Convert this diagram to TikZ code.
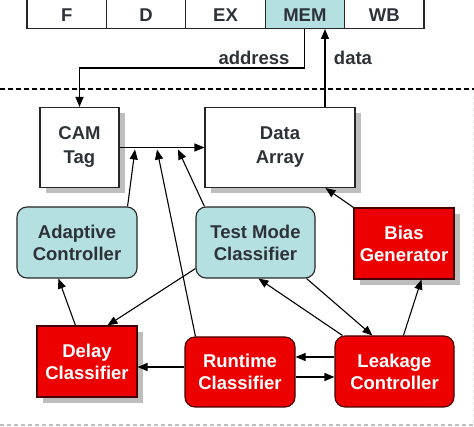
\documentclass[tikz,border=0pt]{standalone}
\usepackage{fontspec}
\setmainfont{Liberation Sans}
\usetikzlibrary{arrows.meta,shadows,calc}
\definecolor{txtdark}{RGB}{45,50,56}
\definecolor{cyanfill}{RGB}{181,224,226}
\definecolor{redfill}{RGB}{236,0,0}
\definecolor{redborder}{RGB}{70,0,0}
\definecolor{shadowgray}{RGB}{190,190,190}
\tikzset{
  lbl/.style={font=\fontsize{18.5}{22}\selectfont\bfseries, text=txtdark},
  box/.style={draw=black!85, line width=1.1pt, align=center, inner sep=0pt,
    font=\fontsize{18.5}{22}\selectfont\bfseries},
  whitebox/.style={box, fill=white, text=txtdark,
    font=\fontsize{18.5}{24}\selectfont\bfseries,
    drop shadow={shadow xshift=6pt, shadow yshift=-6pt, fill=shadowgray, opacity=1}},
  cyanbox/.style={box, fill=cyanfill, text=txtdark, rounded corners=10pt},
  redbox/.style={box, fill=redfill, draw=redborder, text=white,
    drop shadow={shadow xshift=6pt, shadow yshift=-6pt, fill=shadowgray, opacity=1}},
  redround/.style={box, fill=redfill, draw=redborder, text=white, rounded corners=10pt},
  cell/.style={draw=black!85, line width=1.1pt, inner sep=0pt, minimum height=44pt,
    minimum width=79.4pt, anchor=south, font=\fontsize{18.5}{22}\selectfont\bfseries,
    text=txtdark},
  arr/.style={line width=1.1pt, -{Triangle[length=10pt,width=8pt]}},
}
\begin{document}
\begin{tikzpicture}[x=1pt,y=-1pt]
\useasboundingbox (0,0) rectangle (474,427);
\clip (0,0) rectangle (474,427);
% pipeline
\node[cell] (f)   at (66.7,29) {};
\node[cell] (d)   at (146.1,29) {};
\node[cell] (ex)  at (225.5,29) {};
\node[cell, fill=cyanfill] (mem) at (304.9,29) {};
\node[cell] (wb)  at (384.3,29) {};
\node[lbl] (tf)   at (66.7,15.5) {F};
\node[lbl] (td)   at (146.1,15.5) {D};
\node[lbl] (tex)  at (225.5,15.5) {EX};
\node[lbl] (tmem) at (304.9,15.5) {MEM};
\node[lbl] (twb)  at (384.3,15.5) {WB};
% separators
\coordinate (sl) at (0,89);
\coordinate (sr) at (474,89);
\draw[line width=1.1pt, dash pattern=on 5pt off 3pt] (sl) -- (sr);
\coordinate (bl) at (0,425.5);
\coordinate (br) at (474,425.5);
\draw[line width=2pt, shadowgray, dash pattern=on 4pt off 3pt] (bl) -- (br);
\coordinate (rt) at (473,90);
\coordinate (rb) at (473,424);
\draw[line width=0.8pt, black!10, dash pattern=on 3pt off 3pt] (rt) -- (rb);
% blocks
\node[whitebox, minimum width=79pt, minimum height=80pt] (cam) at (79.5,147.5) {CAM\\Tag};
\node[whitebox, minimum width=150pt, minimum height=80pt] (da) at (280,147.5) {Data\\Array};
\node[cyanbox, minimum width=120pt, minimum height=71pt] (ac) at (77,242.5) {Adaptive\\Controller};
\node[cyanbox, minimum width=119pt, minimum height=71pt] (tm) at (255.5,242.5) {Test Mode\\Classifier};
\node[redbox, minimum width=100pt, minimum height=71pt] (bg) at (404,243.5) {Bias\\Generator};
\node[redbox, minimum width=100pt, minimum height=71pt] (dc) at (87,361.5) {Delay\\Classifier};
\node[redround, minimum width=110pt, minimum height=70pt] (rc) at (240,372) {Runtime\\Classifier};
\node[redround, minimum width=119pt, minimum height=71pt] (lc) at (394.5,371.5) {Leakage\\Controller};
% pipeline links
\draw[arr] (mem.south) -- ++(0,39) -| (cam.north);
\coordinate (dx) at (325,0);
\draw[arr] (da.north -| dx) -- (mem.south -| dx);
\node[lbl, anchor=east] (addr) at (293,57.5) {address};
\node[lbl] (data) at (353,57.5) {data};
% main links
\draw[arr] (cam.east) -- (da.west);
\coordinate (j1) at (135,149.5);
\coordinate (j2) at (157,149.5);
\coordinate (j3) at (178,149.5);
\draw[arr] ($(ac.north east)+(-10,0)$) -- (j1);
\draw[arr] ($(rc.north west)+(11,0)$) -- (j2);
\draw[arr] ($(tm.north west)+(9,0)$) -- (j3);
\draw[arr] ($(dc.north west)+(39,0)$) -- ($(ac.south west)+(42,0)$);
\draw[arr] ($(tm.south west)+(0,-10)$) -- ($(dc.north west)+(71,0)$);
\draw[arr] ($(lc.north west)+(8,0)$) -- ($(tm.south west)+(63,0)$);
\draw[arr] ($(tm.south east)+(-9,0)$) -- ($(lc.north west)+(38,0)$);
\draw[arr] ($(lc.north west)+(69,0)$) -- ($(bg.south west)+(68,0)$);
\draw[arr] (bg.north west) -- ($(da.south west)+(121,0)$);
\coordinate (l1) at ($(lc.west)+(0,-14.5)$);
\draw[arr] (l1) -- (rc.east |- l1);
\coordinate (l2) at ($(rc.east)+(0,5)$);
\draw[arr] (l2) -- (lc.west |- l2);
\coordinate (l3) at ($(rc.west)+(0,-5)$);
\draw[arr] (l3) -- (dc.east |- l3);
\end{tikzpicture}
\end{document}
